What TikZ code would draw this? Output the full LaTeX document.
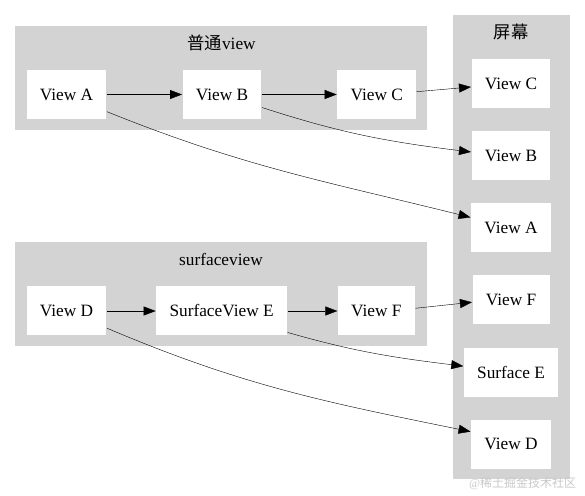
\documentclass[tikz,border=0pt]{standalone}
\usepackage{fontspec}
\setmainfont{Liberation Serif}
\newfontfamily\cjk{Noto Sans CJK SC}
\usetikzlibrary{arrows.meta}
\pgfdeclarelayer{bg}
\pgfsetlayers{bg,main}
\tikzset{
  view/.style={fill=white, minimum height=49pt, inner xsep=13.3pt, font=\fontsize{17.3}{20}\selectfont},
  title/.style={font=\fontsize{17.3}{20}\selectfont},
  cluster/.style={fill={rgb,255:red,211;green,211;blue,211}},
}
\begin{document}
\begin{tikzpicture}[x=1pt, y=1pt, line width=1.1pt, >={Triangle[length=12pt,width=9pt]}]
        \useasboundingbox (0,0) rectangle (585,495);
        \node (vA) [view] at (66.5, 400.5) {View A};
        \node (vB) [view] at (222, 400.5) {View B};
        \node (vC) [view] at (376.7, 400.5) {View C};
        \node (vD) [view] at (66.5, 184) {View D};
        \node (vE) [view] at (221.6, 184) {SurfaceView E};
        \node (vF) [view] at (376.4, 184) {View F};
        \node (sC) [view] at (511, 411.5) {View C};
        \node (sB) [view] at (511, 339.5) {View B};
        \node (sA) [view] at (511, 267.5) {View A};
        \node (sF) [view] at (511, 195.5) {View F};
        \node (sE) [view] at (511, 123) {Surface E};
        \node (sD) [view] at (511, 51) {View D};
        \node (t1) [title] at (221.6, 452) {{\cjk 普通}view};
        \node (t2) [title] at (221, 236) {surfaceview};
        \node (t3) [title] at (511, 463) {\cjk 屏幕};
        \node (wm) [anchor=east, text={rgb,255:red,200;green,200;blue,200}, font=\fontsize{12}{13}\selectfont] at (580, 11) {@{\cjk 稀土掘金技术社区}};
        \begin{pgfonlayer}{bg}
                \fill [cluster] (15, 365) rectangle (427, 469);
                \fill [cluster] (15, 149) rectangle (427, 253);
                \fill [cluster] (452.6, 16) rectangle (569.5, 480);
        \end{pgfonlayer}
        \draw (vA) edge [->] (vB);
        \draw (vB) edge [->] (vC);
        \draw (vD) edge [->] (vE);
        \draw (vE) edge [->] (vF);
        \draw (vC.4.2) edge [->] (sC.-175);
        \draw (vF.4.8) edge [->] (sF.-176);
        \draw (vB.-18.4) edge [->, out=-18, in=173] (sB.175.1);
        \draw (vA.-23.4) edge [->, out=-22, in=166] (sA.166.8);
        \draw (vE.-18.9) edge [->, out=-16, in=173] (sE.173.4);
        \draw (vD.-23.6) edge [->, out=-23, in=168.5] (sD.163.8);
\end{tikzpicture}
\end{document}
